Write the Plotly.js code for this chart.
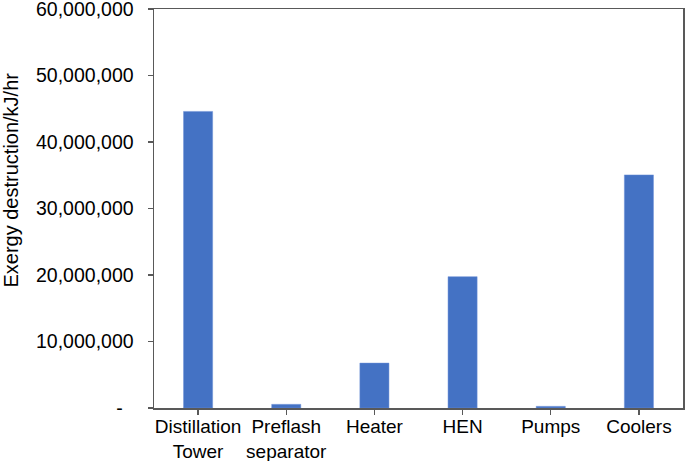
<!DOCTYPE html>
<html>
<head>
<meta charset="utf-8">
<script src="https://cdn.plot.ly/plotly-3.0.1.min.js"></script>
<style>
  html, body { margin: 0; padding: 0; background: #fff; }
  #chart { width: 685px; height: 461px; }
</style>
</head>
<body>
<div id="chart"></div>
<script>
// categories and values
const categories = ['Distillation<br>Tower', 'Preflash<br>separator', 'Heater', 'HEN', 'Pumps', 'Coolers'];
const exergyDestruction = [44600000, 550000, 6750000, 19750000, 250000, 35050000];
const yTickVals = [0, 10000000, 20000000, 30000000, 40000000, 50000000, 60000000];
const yTickText = ['-\u00a0\u00a0', '10,000,000', '20,000,000', '30,000,000', '40,000,000', '50,000,000', '60,000,000'];
const yTitle = 'Exergy destruction/kJ/hr';

const axisLine = { showline: true, linecolor: '#595959', linewidth: 1.5, mirror: true, ticks: 'outside', ticklen: 5, tickwidth: 1.2, tickcolor: '#595959' };

const traces = [{
  type: 'bar',
  x: categories,
  y: exergyDestruction,
  marker: { color: '#4472C4', line: { color: '#6a8fd6', width: 0.5 } },
  hoverinfo: 'x+y'
}];

const layout = {
  width: 685, height: 461,
  paper_bgcolor: 'white', plot_bgcolor: 'white',
  font: { family: 'Liberation Sans, Arial, sans-serif', size: 19, color: '#000' },
  margin: { l: 154, r: 2, t: 9, b: 53 },
  bargap: 0.67,
  showlegend: false,
  xaxis: {
    ...axisLine,
    tickfont: { size: 19, color: '#000' },
    ticklabelstandoff: -4,
    automargin: false
  },
  yaxis: {
    ...axisLine,
    range: [0, 60000000],
    tickvals: yTickVals,
    ticktext: yTickText,
    showgrid: false, zeroline: false,
    tickfont: { size: 19.5, color: '#000' },
    ticklabelstandoff: 10,
    ticklabeloverflow: 'allow',
    automargin: false
  },
  // axis title sits a little above the plot's middle in the reference, so it is an annotation
  annotations: [{
    text: yTitle, textangle: -90, showarrow: false,
    xref: 'paper', yref: 'paper', x: 0, y: 0.57, xanchor: 'center', yanchor: 'middle',
    xshift: -143, font: { size: 20, color: '#000' }
  }]
};

Plotly.newPlot('chart', traces, layout, { staticPlot: true });
</script>
</body>
</html>
